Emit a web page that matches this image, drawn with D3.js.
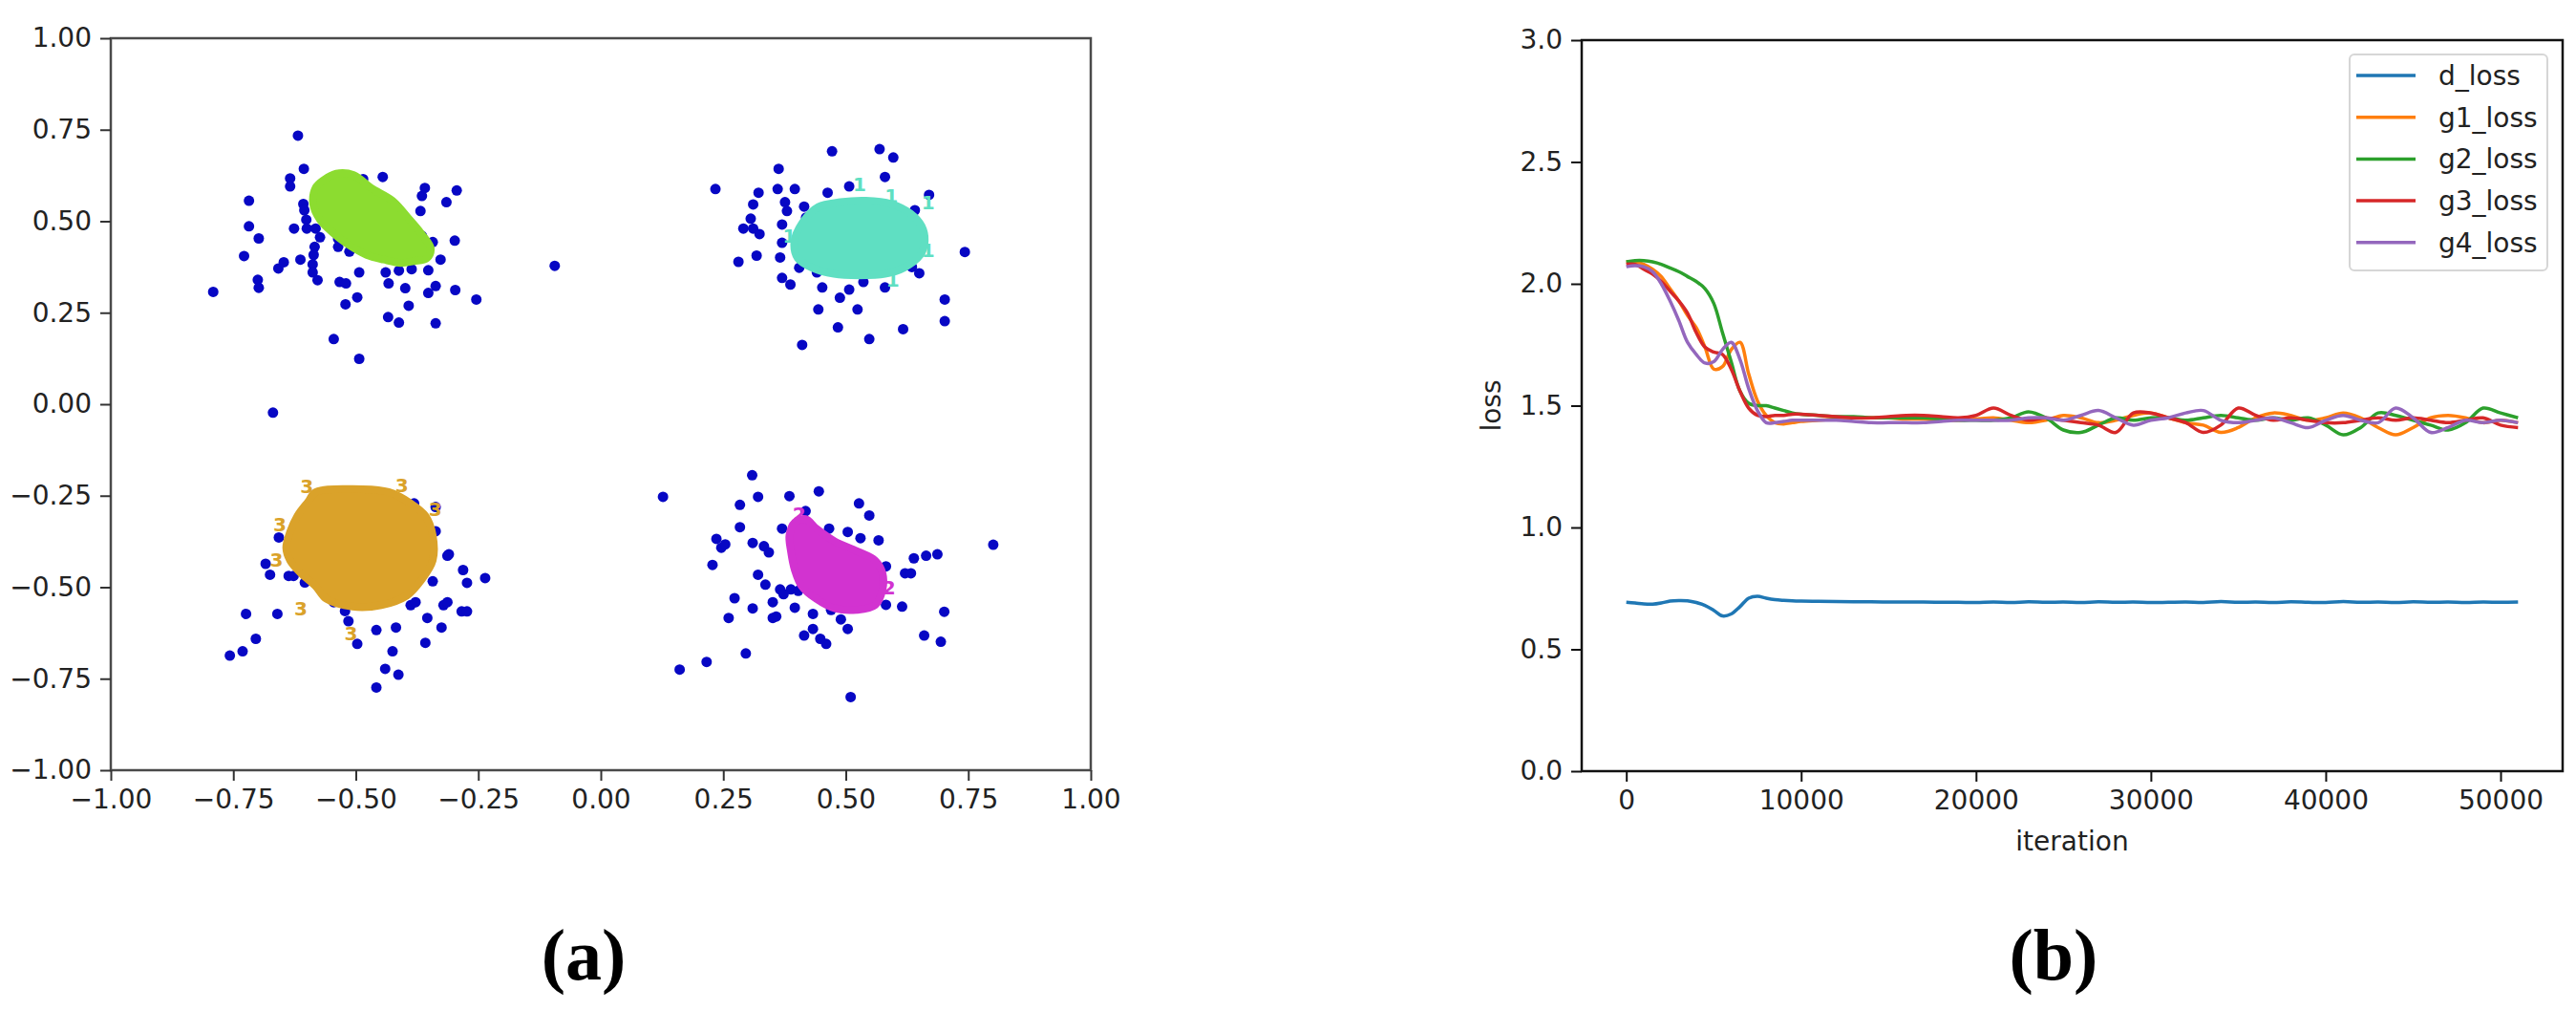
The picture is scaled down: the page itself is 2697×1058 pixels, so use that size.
<!DOCTYPE html>
<html>
<head>
<meta charset="utf-8">
<script src="https://cdn.jsdelivr.net/npm/d3@7"></script>
<style>
  body { margin: 0; background: #fff; }
  svg { display: block; }
  text { font-family: "DejaVu Sans", sans-serif; }
</style>
</head>
<body>
<svg id="fig" width="2697" height="1058"></svg>
<script>
// ---------- panel (a): scatter data ----------
// noisy samples (blue dots), one list per mode
const noiseTopLeft = [
  [-0.618,0.734],[-0.606,0.643],[-0.634,0.617],[-0.634,0.595],[-0.718,0.556],[-0.718,0.486],
  [-0.698,0.453],[-0.728,0.405],[-0.791,0.307],[-0.700,0.340],[-0.698,0.318],[-0.658,0.371],
  [-0.647,0.388],[-0.613,0.395],[-0.626,0.480],[-0.607,0.547],[-0.605,0.530],[-0.601,0.504],
  [-0.600,0.480],[-0.582,0.480],[-0.573,0.456],[-0.584,0.430],[-0.586,0.408],[-0.588,0.382],
  [-0.588,0.360],[-0.578,0.339],[-0.536,0.452],[-0.536,0.430],[-0.513,0.417],[-0.533,0.334],
  [-0.520,0.330],[-0.521,0.273],[-0.497,0.292],[-0.493,0.360],[-0.485,0.615],[-0.445,0.621],
  [-0.545,0.178],[-0.493,0.124],[-0.434,0.238],[-0.412,0.223],[-0.433,0.330],[-0.439,0.360],
  [-0.412,0.365],[-0.386,0.369],[-0.399,0.317],[-0.392,0.269],[-0.337,0.221],[-0.352,0.304],
  [-0.337,0.323],[-0.352,0.366],[-0.327,0.395],[-0.297,0.312],[-0.254,0.286],[-0.298,0.447],
  [-0.343,0.443],[-0.365,0.460],[-0.368,0.528],[-0.365,0.569],[-0.359,0.591],[-0.315,0.552],
  [-0.294,0.584],[-0.094,0.378],[-0.669,-0.023]
];
const noiseTopRight = [
  [0.472,0.691],[0.569,0.697],[0.597,0.674],[0.363,0.643],[0.580,0.621],[0.234,0.588],
  [0.322,0.578],[0.361,0.588],[0.396,0.588],[0.463,0.578],[0.507,0.595],[0.670,0.572],
  [0.311,0.546],[0.376,0.552],[0.380,0.528],[0.415,0.540],[0.419,0.510],[0.306,0.507],
  [0.291,0.480],[0.311,0.480],[0.324,0.465],[0.370,0.491],[0.370,0.441],[0.366,0.401],
  [0.318,0.406],[0.281,0.389],[0.641,0.530],[0.743,0.416],[0.370,0.345],[0.387,0.327],
  [0.405,0.373],[0.441,0.360],[0.452,0.319],[0.488,0.291],[0.507,0.313],[0.536,0.334],
  [0.549,0.360],[0.580,0.319],[0.635,0.375],[0.650,0.358],[0.702,0.286],[0.702,0.227],
  [0.444,0.259],[0.524,0.259],[0.484,0.210],[0.617,0.205],[0.548,0.178],[0.411,0.162]
];
const noiseBottomLeft = [
  [-0.657,-0.364],[-0.684,-0.436],[-0.675,-0.466],[-0.637,-0.469],[-0.627,-0.469],[-0.604,-0.487],
  [-0.724,-0.573],[-0.660,-0.573],[-0.704,-0.641],[-0.731,-0.675],[-0.757,-0.687],[-0.567,-0.510],
  [-0.545,-0.541],[-0.522,-0.565],[-0.515,-0.593],[-0.497,-0.655],[-0.458,-0.617],[-0.418,-0.610],
  [-0.425,-0.675],[-0.440,-0.723],[-0.458,-0.774],[-0.413,-0.739],[-0.388,-0.549],[-0.378,-0.541],
  [-0.358,-0.652],[-0.354,-0.584],[-0.325,-0.610],[-0.321,-0.549],[-0.313,-0.541],[-0.284,-0.566],
  [-0.273,-0.566],[-0.273,-0.488],[-0.281,-0.453],[-0.236,-0.475],[-0.313,-0.414],[-0.310,-0.410],
  [-0.337,-0.347],[-0.337,-0.281],[-0.381,-0.271],[-0.343,-0.484],[-0.510,-0.236]
];
const noiseBottomRight = [
  [0.127,-0.253],[0.309,-0.194],[0.284,-0.275],[0.321,-0.253],[0.385,-0.251],[0.445,-0.238],
  [0.418,-0.292],[0.284,-0.336],[0.310,-0.379],[0.236,-0.368],[0.246,-0.392],[0.254,-0.383],
  [0.228,-0.439],[0.333,-0.388],[0.343,-0.405],[0.321,-0.466],[0.336,-0.493],[0.366,-0.506],
  [0.388,-0.506],[0.403,-0.510],[0.373,-0.519],[0.273,-0.530],[0.310,-0.558],[0.351,-0.541],
  [0.358,-0.580],[0.351,-0.584],[0.261,-0.584],[0.396,-0.556],[0.433,-0.573],[0.433,-0.614],
  [0.415,-0.632],[0.448,-0.641],[0.460,-0.655],[0.296,-0.681],[0.216,-0.704],[0.161,-0.725],
  [0.510,-0.800],[0.490,-0.588],[0.504,-0.614],[0.470,-0.562],[0.370,-0.340],[0.466,-0.340],
  [0.504,-0.349],[0.530,-0.366],[0.567,-0.372],[0.527,-0.271],[0.548,-0.304],[0.582,-0.443],
  [0.582,-0.548],[0.615,-0.553],[0.621,-0.462],[0.633,-0.462],[0.639,-0.421],[0.664,-0.414],
  [0.687,-0.410],[0.701,-0.567],[0.660,-0.632],[0.694,-0.649],[0.801,-0.384]
];

// outlines of the dense generated clusters (one per generator)
const hullG0 = [
  [-0.540,0.630],[-0.504,0.626],[-0.469,0.591],[-0.425,0.556],[-0.390,0.504],[-0.368,0.469],
  [-0.347,0.426],[-0.355,0.399],[-0.382,0.391],[-0.408,0.386],[-0.443,0.395],[-0.478,0.408],
  [-0.513,0.434],[-0.547,0.469],[-0.573,0.504],[-0.587,0.547],[-0.582,0.591],[-0.565,0.613]
];
const hullG1 = [
  [0.411,0.495],[0.444,0.539],[0.489,0.552],[0.541,0.556],[0.593,0.547],[0.632,0.521],
  [0.655,0.486],[0.661,0.443],[0.652,0.408],[0.619,0.373],[0.580,0.356],[0.528,0.352],
  [0.476,0.356],[0.431,0.373],[0.402,0.399],[0.395,0.443]
];
const hullG2 = [
  [0.396,-0.323],[0.418,-0.314],[0.440,-0.340],[0.478,-0.375],[0.522,-0.401],[0.560,-0.427],
  [0.575,-0.462],[0.575,-0.506],[0.560,-0.549],[0.522,-0.562],[0.478,-0.558],[0.440,-0.532],
  [0.410,-0.497],[0.396,-0.453],[0.388,-0.401],[0.385,-0.358]
];
const hullG3 = [
  [-0.582,-0.240],[-0.507,-0.232],[-0.433,-0.240],[-0.388,-0.271],[-0.358,-0.305],[-0.343,-0.358],
  [-0.343,-0.427],[-0.366,-0.480],[-0.396,-0.523],[-0.448,-0.549],[-0.507,-0.553],[-0.560,-0.532],
  [-0.582,-0.497],[-0.612,-0.462],[-0.634,-0.427],[-0.642,-0.392],[-0.634,-0.349],[-0.619,-0.305],
  [-0.597,-0.266]
];
// stray digit markers just outside the solid blobs
const strayG1 = [[0.528,0.600],[0.593,0.569],[0.668,0.552],[0.668,0.421],[0.385,0.460],[0.596,0.340]];
const strayG2 = [[0.588,-0.500],[0.405,-0.300]];
const strayG3 = [[-0.406,-0.222],[-0.338,-0.288],[-0.612,-0.560],[-0.510,-0.627],[-0.600,-0.225],
                 [-0.655,-0.330],[-0.662,-0.425]];

const scatterTicks = [-1.00, -0.75, -0.50, -0.25, 0.00, 0.25, 0.50, 0.75, 1.00];

// ---------- panel (b): loss curves ----------
const iterations = [
  0,500,1000,1500,2000,2500,3000,3500,4000,4500,5000,5500,6000,6500,7000,7500,8000,8500,9000,9500,10000,
  11000,12000,13000,14000,15000,16000,17000,18000,19000,20000,
  21000,22000,23000,24000,25000,26000,27000,28000,29000,30000,
  31000,32000,33000,34000,35000,36000,37000,38000,39000,40000,
  41000,42000,43000,44000,45000,46000,47000,48000,49000,50000,51000
];
const dLoss = [
  0.693,0.690,0.686,0.685,0.690,0.698,0.700,0.699,0.692,0.680,0.660,0.637,0.645,0.675,0.710,0.718,0.710,0.704,0.701,0.699,0.698,
  0.697,0.696,0.695,0.695,0.694,0.694,0.694,0.693,0.693,0.692,
  0.694,0.692,0.695,0.693,0.694,0.692,0.695,0.693,0.694,0.692,
  0.693,0.694,0.692,0.696,0.693,0.694,0.692,0.695,0.693,0.692,
  0.696,0.693,0.694,0.692,0.695,0.693,0.694,0.692,0.694,0.693,0.694
];
const g1Loss = [
  2.09,2.09,2.08,2.06,2.03,1.98,1.93,1.87,1.82,1.74,1.65,1.66,1.73,1.76,1.63,1.52,1.46,1.43,1.425,1.43,1.435,
  1.44,1.445,1.45,1.45,1.45,1.445,1.445,1.44,1.44,1.445,
  1.45,1.44,1.43,1.44,1.46,1.45,1.43,1.44,1.46,1.47,
  1.45,1.43,1.42,1.39,1.41,1.45,1.47,1.46,1.44,1.45,
  1.47,1.45,1.41,1.38,1.41,1.45,1.46,1.45,1.43,1.44,1.43
];
const g2Loss = [
  2.09,2.095,2.095,2.09,2.08,2.065,2.05,2.03,2.01,1.98,1.92,1.80,1.68,1.56,1.51,1.50,1.50,1.49,1.48,1.47,1.465,
  1.46,1.455,1.455,1.45,1.45,1.45,1.45,1.445,1.44,1.44,
  1.44,1.45,1.475,1.45,1.40,1.39,1.42,1.45,1.44,1.45,
  1.45,1.44,1.45,1.46,1.45,1.44,1.45,1.44,1.45,1.42,
  1.38,1.41,1.47,1.46,1.44,1.42,1.40,1.43,1.49,1.47,1.45
];
const g3Loss = [
  2.08,2.08,2.06,2.04,2.01,1.97,1.93,1.88,1.80,1.74,1.72,1.71,1.65,1.56,1.49,1.46,1.455,1.46,1.46,1.465,1.465,
  1.46,1.455,1.45,1.45,1.455,1.46,1.46,1.455,1.45,1.46,
  1.49,1.46,1.44,1.45,1.44,1.43,1.42,1.39,1.47,1.47,
  1.45,1.43,1.39,1.42,1.49,1.46,1.44,1.45,1.44,1.43,
  1.43,1.44,1.45,1.44,1.45,1.44,1.43,1.44,1.45,1.42,1.41
];
const g4Loss = [
  2.07,2.075,2.07,2.05,2.00,1.93,1.85,1.76,1.71,1.675,1.68,1.73,1.76,1.69,1.57,1.48,1.43,1.43,1.435,1.44,1.44,
  1.44,1.44,1.435,1.43,1.43,1.43,1.43,1.435,1.44,1.44,
  1.44,1.44,1.45,1.45,1.44,1.46,1.48,1.45,1.42,1.44,
  1.45,1.47,1.48,1.44,1.43,1.44,1.45,1.43,1.41,1.44,
  1.46,1.44,1.43,1.49,1.45,1.39,1.41,1.44,1.43,1.44,1.43
];
const seriesNames = ["d_loss", "g1_loss", "g2_loss", "g3_loss", "g4_loss"];
const seriesColors = ["#1f77b4", "#ff7f0e", "#2ca02c", "#d62728", "#9467bd"];
const lossTicks = [0.0, 0.5, 1.0, 1.5, 2.0, 2.5, 3.0];
const iterTicks = [0, 10000, 20000, 30000, 40000, 50000];

const svg = d3.select("#fig");
svg.append("rect").attr("width", 2697).attr("height", 1058).attr("fill", "#fff");

const fmtMinus = s => s.replace("-", "\u2212");

// ================= panel (a) =================
{
  const left = 116, right = 1142, top = 40, bottom = 806;
  const x = d3.scaleLinear().domain([-1, 1]).range([left, right]);
  const y = d3.scaleLinear().domain([-1, 1]).range([bottom, top]);
  const g = svg.append("g");

  // blue noisy samples underneath
  const allNoise = noiseTopLeft.concat(noiseTopRight, noiseBottomLeft, noiseBottomRight);
  g.selectAll("circle.noise").data(allNoise).enter().append("circle")
    .attr("class", "noise")
    .attr("cx", d => x(d[0]))
    .attr("cy", d => y(d[1]))
    .attr("r", 5.5)
    .attr("fill", "#0707c4");

  // generated clusters: solid blob + a few stray digit markers
  const clusters = [
    { hull: hullG0, stray: [], color: "#8cdc30", label: "0" },
    { hull: hullG1, stray: strayG1, color: "#5fdfc2", label: "1" },
    { hull: hullG2, stray: strayG2, color: "#d233d0", label: "2" },
    { hull: hullG3, stray: strayG3, color: "#daa22a", label: "3" }
  ];
  const blob = d3.line().x(d => x(d[0])).y(d => y(d[1])).curve(d3.curveCatmullRomClosed);
  clusters.forEach(c => {
    g.append("path").attr("d", blob(c.hull)).attr("fill", c.color)
      .attr("stroke", c.color).attr("stroke-width", 8).attr("stroke-linejoin", "round");
    g.selectAll(null).data(c.stray).enter().append("text")
      .attr("x", d => x(d[0]))
      .attr("y", d => y(d[1]))
      .attr("text-anchor", "middle")
      .attr("dy", "0.35em")
      .style("font-size", "20px")
      .style("font-weight", "bold")
      .attr("fill", c.color)
      .text(c.label);
  });

  // frame
  g.append("rect").attr("x", left).attr("y", top)
    .attr("width", right - left).attr("height", bottom - top)
    .attr("fill", "none").attr("stroke", "#4a4a4a").attr("stroke-width", 2.5);

  const xAxis = d3.axisBottom(x).tickValues(scatterTicks).tickSize(11).tickPadding(9)
    .tickFormat(d => fmtMinus(d3.format(".2f")(d)));
  const yAxis = d3.axisLeft(y).tickValues(scatterTicks).tickSize(11).tickPadding(9)
    .tickFormat(d => fmtMinus(d3.format(".2f")(d)));
  [g.append("g").attr("transform", `translate(0,${bottom})`).call(xAxis),
   g.append("g").attr("transform", `translate(${left},0)`).call(yAxis)].forEach(a => {
    a.select(".domain").remove();
    a.selectAll(".tick line").attr("stroke", "#333").attr("stroke-width", 2);
    a.selectAll(".tick text").attr("fill", "#222")
      .style("font-family", "'DejaVu Sans', sans-serif").style("font-size", "28px");
  });
}

// ================= panel (b) =================
{
  const left = 1656, right = 2683, top = 42, bottom = 807;
  const x = d3.scaleLinear().domain([-2550, 53550]).range([left, right]);
  const y = d3.scaleLinear().domain([0, 3]).range([bottom, top]);
  const g = svg.append("g");

  const allSeries = [dLoss, g1Loss, g2Loss, g3Loss, g4Loss];
  const line = d3.line()
    .x((d, i) => x(iterations[i]))
    .y(d => y(d))
    .curve(d3.curveCatmullRom);

  allSeries.forEach((s, k) => {
    g.append("path").datum(s)
      .attr("d", line)
      .attr("fill", "none")
      .attr("stroke", seriesColors[k])
      .attr("stroke-width", 3.5)
      .attr("stroke-linejoin", "round");
  });

  g.append("rect").attr("x", left).attr("y", top)
    .attr("width", right - left).attr("height", bottom - top)
    .attr("fill", "none").attr("stroke", "#111").attr("stroke-width", 2.5);

  const xAxis = d3.axisBottom(x).tickValues(iterTicks).tickSize(11).tickPadding(9)
    .tickFormat(d3.format("d"));
  const yAxis = d3.axisLeft(y).tickValues(lossTicks).tickSize(11).tickPadding(9)
    .tickFormat(d3.format(".1f"));
  [g.append("g").attr("transform", `translate(0,${bottom})`).call(xAxis),
   g.append("g").attr("transform", `translate(${left},0)`).call(yAxis)].forEach(a => {
    a.select(".domain").remove();
    a.selectAll(".tick line").attr("stroke", "#111").attr("stroke-width", 2);
    a.selectAll(".tick text").attr("fill", "#222")
      .style("font-family", "'DejaVu Sans', sans-serif").style("font-size", "28px");
  });

  // axis titles
  g.append("text")
    .attr("x", (left + right) / 2).attr("y", 890)
    .attr("text-anchor", "middle")
    .style("font-size", "28px").attr("fill", "#222")
    .text("iteration");
  g.append("text")
    .attr("transform", `translate(1571,${(top + bottom) / 2}) rotate(-90)`)
    .attr("text-anchor", "middle")
    .style("font-size", "28px").attr("fill", "#222")
    .text("loss");

  // legend
  const lg = g.append("g").attr("transform", "translate(2460,57)");
  lg.append("rect").attr("width", 207).attr("height", 226).attr("rx", 5)
    .attr("fill", "#fff").attr("fill-opacity", 0.8)
    .attr("stroke", "#d6d6d6").attr("stroke-width", 2);
  seriesNames.forEach((name, k) => {
    const yy = 22 + k * 43.7;
    lg.append("line").attr("x1", 7).attr("x2", 69).attr("y1", yy).attr("y2", yy)
      .attr("stroke", seriesColors[k]).attr("stroke-width", 3.5);
    lg.append("text").attr("x", 93).attr("y", yy).attr("dy", "0.35em")
      .style("font-size", "28px").attr("fill", "#222")
      .text(name);
  });
}

// ================= captions =================
svg.selectAll("text.caption")
  .data([{ t: "(a)", x: 611 }, { t: "(b)", x: 2150 }])
  .enter().append("text")
  .attr("class", "caption")
  .attr("x", d => d.x).attr("y", 1025)
  .attr("text-anchor", "middle")
  .style("font-family", "'Liberation Serif', 'DejaVu Serif', serif")
  .style("font-weight", "bold")
  .style("font-size", "76px")
  .attr("fill", "#000")
  .text(d => d.t);
</script>
</body>
</html>
